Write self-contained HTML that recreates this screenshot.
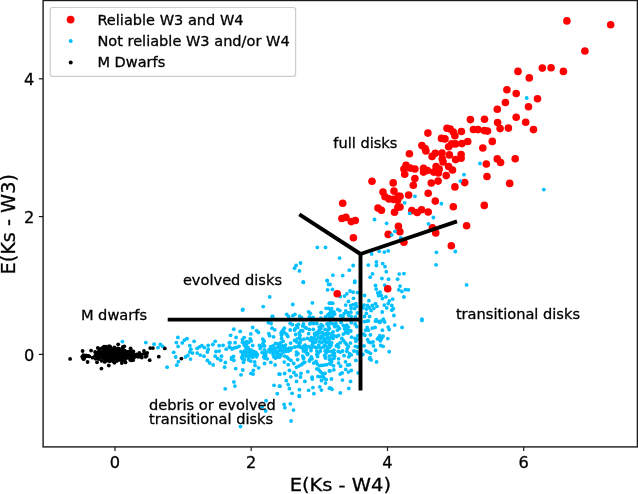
<!DOCTYPE html><html><head><meta charset="utf-8"><title>plot</title><style>html,body{margin:0;padding:0;background:#fff}</style></head><body><svg width="638" height="494" viewBox="0 0 638 494" style="display:block;font-family:'DejaVu Sans','Liberation Sans',sans-serif">
<style>text{stroke:#000;stroke-width:0.3px}</style>
<rect width="638" height="494" fill="#fff"/>
<g fill="#ff0000"><circle cx="566.9" cy="20.9" r="3.8"/><circle cx="610.7" cy="24.8" r="3.8"/><circle cx="584.9" cy="51.0" r="3.8"/><circle cx="518" cy="71.4" r="3.8"/><circle cx="529.3" cy="77.9" r="3.8"/><circle cx="542.3" cy="68.1" r="3.8"/><circle cx="551.1" cy="67.8" r="3.8"/><circle cx="563.4" cy="71.4" r="3.8"/><circle cx="506.9" cy="89.7" r="3.8"/><circle cx="516.2" cy="93.5" r="3.8"/><circle cx="537.5" cy="98.7" r="3.8"/><circle cx="505.4" cy="102.5" r="3.8"/><circle cx="528.5" cy="106.8" r="3.8"/><circle cx="497.3" cy="109.3" r="3.8"/><circle cx="484.5" cy="119.3" r="3.8"/><circle cx="516.2" cy="117.3" r="3.8"/><circle cx="497.6" cy="122.5" r="3.8"/><circle cx="525.7" cy="122.2" r="3.8"/><circle cx="478" cy="129.6" r="3.8"/><circle cx="484.3" cy="130.6" r="3.8"/><circle cx="487.5" cy="131.1" r="3.8"/><circle cx="500.1" cy="128.6" r="3.8"/><circle cx="508.4" cy="128.1" r="3.8"/><circle cx="533.5" cy="129.6" r="3.8"/><circle cx="492.3" cy="141.4" r="3.8"/><circle cx="482.8" cy="148.0" r="3.8"/><circle cx="497.3" cy="158.9" r="3.8"/><circle cx="500.6" cy="162.5" r="3.8"/><circle cx="515.2" cy="158.7" r="3.8"/><circle cx="486.3" cy="164" r="3.8"/><circle cx="487" cy="176.5" r="3.8"/><circle cx="509.7" cy="183.4" r="3.8"/><circle cx="484.3" cy="205.4" r="3.8"/><circle cx="470.4" cy="119.6" r="3.8"/><circle cx="427.9" cy="133.1" r="3.8"/><circle cx="447" cy="128.2" r="3.8"/><circle cx="450.2" cy="129" r="3.8"/><circle cx="453.3" cy="132.1" r="3.8"/><circle cx="454.9" cy="135.7" r="3.8"/><circle cx="461.4" cy="131.5" r="3.8"/><circle cx="473.4" cy="129.5" r="3.8"/><circle cx="441.5" cy="138.4" r="3.8"/><circle cx="445" cy="138.9" r="3.8"/><circle cx="467.7" cy="141.5" r="3.8"/><circle cx="421.9" cy="145.5" r="3.8"/><circle cx="425.1" cy="148.6" r="3.8"/><circle cx="425.9" cy="150.9" r="3.8"/><circle cx="451.7" cy="143.9" r="3.8"/><circle cx="455.6" cy="143.9" r="3.8"/><circle cx="461.9" cy="143.6" r="3.8"/><circle cx="448.6" cy="146.7" r="3.8"/><circle cx="409.4" cy="153.7" r="3.8"/><circle cx="435.3" cy="153.3" r="3.8"/><circle cx="432.1" cy="156.4" r="3.8"/><circle cx="442" cy="153" r="3.8"/><circle cx="449.4" cy="154.9" r="3.8"/><circle cx="461.1" cy="154.5" r="3.8"/><circle cx="455.6" cy="159.6" r="3.8"/><circle cx="461.1" cy="158.3" r="3.8"/><circle cx="442.3" cy="158.8" r="3.8"/><circle cx="443.1" cy="161.9" r="3.8"/><circle cx="406" cy="165.2" r="3.8"/><circle cx="410.2" cy="168.1" r="3.8"/><circle cx="414.9" cy="169" r="3.8"/><circle cx="403.9" cy="169" r="3.8"/><circle cx="404.7" cy="174.3" r="3.8"/><circle cx="423.5" cy="168.2" r="3.8"/><circle cx="427.4" cy="170.5" r="3.8"/><circle cx="423.5" cy="172.1" r="3.8"/><circle cx="436.1" cy="166.6" r="3.8"/><circle cx="439.2" cy="169" r="3.8"/><circle cx="433.7" cy="172.1" r="3.8"/><circle cx="438.4" cy="172.9" r="3.8"/><circle cx="448.6" cy="166.6" r="3.8"/><circle cx="452.5" cy="170" r="3.8"/><circle cx="446.2" cy="175.6" r="3.8"/><circle cx="414.9" cy="178.5" r="3.8"/><circle cx="413.3" cy="185.2" r="3.8"/><circle cx="431.3" cy="183" r="3.8"/><circle cx="438.1" cy="181.1" r="3.8"/><circle cx="464.7" cy="182.6" r="3.8"/><circle cx="454.9" cy="186.9" r="3.8"/><circle cx="408.6" cy="195.1" r="3.8"/><circle cx="400" cy="196.3" r="3.8"/><circle cx="428.2" cy="193.2" r="3.8"/><circle cx="435.3" cy="201.1" r="3.8"/><circle cx="453.3" cy="206.7" r="3.8"/><circle cx="411.8" cy="210.6" r="3.8"/><circle cx="417.2" cy="212.5" r="3.8"/><circle cx="421.6" cy="209.7" r="3.8"/><circle cx="428.2" cy="212" r="3.8"/><circle cx="400" cy="207" r="3.8"/><circle cx="466.6" cy="225.7" r="3.8"/><circle cx="432.4" cy="227.7" r="3.8"/><circle cx="435.7" cy="232.9" r="3.8"/><circle cx="372" cy="181.3" r="3.8"/><circle cx="393.2" cy="182.9" r="3.8"/><circle cx="383" cy="192" r="3.8"/><circle cx="394" cy="191.1" r="3.8"/><circle cx="385" cy="196.7" r="3.8"/><circle cx="389" cy="198.9" r="3.8"/><circle cx="393.7" cy="199.4" r="3.8"/><circle cx="398.4" cy="196.2" r="3.8"/><circle cx="397.6" cy="200.2" r="3.8"/><circle cx="342.7" cy="203.3" r="3.8"/><circle cx="378" cy="208" r="3.8"/><circle cx="381.4" cy="210.3" r="3.8"/><circle cx="397.9" cy="207.2" r="3.8"/><circle cx="394.5" cy="212.2" r="3.8"/><circle cx="341.9" cy="218.5" r="3.8"/><circle cx="345.9" cy="217.4" r="3.8"/><circle cx="351.3" cy="221.6" r="3.8"/><circle cx="355.3" cy="220.5" r="3.8"/><circle cx="398.4" cy="226.4" r="3.8"/><circle cx="353.4" cy="237.7" r="3.8"/><circle cx="399.9" cy="231.8" r="3.8"/><circle cx="388.2" cy="234.4" r="3.8"/><circle cx="403.9" cy="242.3" r="3.8"/><circle cx="451.3" cy="245.7" r="3.8"/></g>
<g fill="#00bfff"><circle cx="526.7" cy="98" r="1.9"/><circle cx="480" cy="163.5" r="1.9"/><circle cx="543.8" cy="189.6" r="1.9"/><circle cx="464" cy="174.7" r="1.9"/><circle cx="460.3" cy="181.1" r="1.9"/><circle cx="414.9" cy="196.3" r="1.9"/><circle cx="404.7" cy="202.8" r="1.9"/><circle cx="441.4" cy="203.7" r="1.9"/><circle cx="409.7" cy="213.4" r="1.9"/><circle cx="433.4" cy="217.5" r="1.9"/><circle cx="428.5" cy="223.8" r="1.9"/><circle cx="400.8" cy="237.9" r="1.9"/><circle cx="374.5" cy="219.5" r="1.9"/><circle cx="386.6" cy="223.3" r="1.9"/><circle cx="394.9" cy="231.3" r="1.9"/><circle cx="391.8" cy="234.9" r="1.9"/><circle cx="401.2" cy="238.5" r="1.9"/><circle cx="325.5" cy="247.4" r="1.9"/><circle cx="339.6" cy="258.1" r="1.9"/><circle cx="371.7" cy="254" r="1.9"/><circle cx="379.2" cy="251.3" r="1.9"/><circle cx="384.3" cy="252.1" r="1.9"/><circle cx="388.2" cy="250.9" r="1.9"/><circle cx="353.2" cy="265.5" r="1.9"/><circle cx="349.3" cy="270.2" r="1.9"/><circle cx="368.3" cy="265.1" r="1.9"/><circle cx="376.4" cy="262" r="1.9"/><circle cx="376.4" cy="265.5" r="1.9"/><circle cx="382.7" cy="263.6" r="1.9"/><circle cx="385" cy="266.6" r="1.9"/><circle cx="386.3" cy="271.7" r="1.9"/><circle cx="372.5" cy="273.8" r="1.9"/><circle cx="370.2" cy="277.2" r="1.9"/><circle cx="332.9" cy="275.2" r="1.9"/><circle cx="342.7" cy="275.6" r="1.9"/><circle cx="327.1" cy="280.3" r="1.9"/><circle cx="354.8" cy="281.1" r="1.9"/><circle cx="381.9" cy="278.5" r="1.9"/><circle cx="388.5" cy="279.2" r="1.9"/><circle cx="399.2" cy="274.1" r="1.9"/><circle cx="403.9" cy="273.6" r="1.9"/><circle cx="397.6" cy="279.2" r="1.9"/><circle cx="145.8" cy="342.6" r="1.9"/><circle cx="154.1" cy="344.2" r="1.9"/><circle cx="160.4" cy="344.5" r="1.9"/><circle cx="158" cy="347.6" r="1.9"/><circle cx="162.7" cy="346.4" r="1.9"/><circle cx="177.9" cy="337.4" r="1.9"/><circle cx="176.4" cy="342.6" r="1.9"/><circle cx="178.1" cy="346.4" r="1.9"/><circle cx="173.7" cy="352.3" r="1.9"/><circle cx="175.7" cy="357" r="1.9"/><circle cx="178.4" cy="361.7" r="1.9"/><circle cx="176.8" cy="365.2" r="1.9"/><circle cx="167.1" cy="367.2" r="1.9"/><circle cx="182.3" cy="342.9" r="1.9"/><circle cx="184.4" cy="340.1" r="1.9"/><circle cx="187" cy="338.7" r="1.9"/><circle cx="194.1" cy="341.3" r="1.9"/><circle cx="189.8" cy="345.7" r="1.9"/><circle cx="190.9" cy="349.2" r="1.9"/><circle cx="189.8" cy="352" r="1.9"/><circle cx="192.5" cy="353.1" r="1.9"/><circle cx="187.8" cy="355.5" r="1.9"/><circle cx="185.5" cy="357" r="1.9"/><circle cx="190.5" cy="359.1" r="1.9"/><circle cx="197.2" cy="348.4" r="1.9"/><circle cx="199.6" cy="346.8" r="1.9"/><circle cx="201.9" cy="345.7" r="1.9"/><circle cx="204.3" cy="347.6" r="1.9"/><circle cx="197.2" cy="353.1" r="1.9"/><circle cx="200.3" cy="355.1" r="1.9"/><circle cx="204" cy="356.2" r="1.9"/><circle cx="208.2" cy="345.3" r="1.9"/><circle cx="208.2" cy="349.2" r="1.9"/><circle cx="207.4" cy="352" r="1.9"/><circle cx="212.9" cy="344.5" r="1.9"/><circle cx="215.2" cy="341.3" r="1.9"/><circle cx="219.2" cy="345.7" r="1.9"/><circle cx="223.1" cy="345.3" r="1.9"/><circle cx="216" cy="351.5" r="1.9"/><circle cx="219.2" cy="351.1" r="1.9"/><circle cx="215.2" cy="356.2" r="1.9"/><circle cx="217.6" cy="358.6" r="1.9"/><circle cx="221.5" cy="356.2" r="1.9"/><circle cx="220.7" cy="360.2" r="1.9"/><circle cx="207.4" cy="360.5" r="1.9"/><circle cx="209.7" cy="363" r="1.9"/><circle cx="213.2" cy="364.9" r="1.9"/><circle cx="225.4" cy="362.5" r="1.9"/><circle cx="224.6" cy="367.2" r="1.9"/><circle cx="226.2" cy="349.2" r="1.9"/><circle cx="229.3" cy="346.8" r="1.9"/><circle cx="229.3" cy="342.9" r="1.9"/><circle cx="122.4" cy="341.6" r="1.9"/><circle cx="317.3" cy="247.4" r="1.9"/><circle cx="300.5" cy="263" r="1.9"/><circle cx="296.1" cy="265.4" r="1.9"/><circle cx="294.6" cy="268.2" r="1.9"/><circle cx="299.4" cy="270.9" r="1.9"/><circle cx="303.2" cy="281.8" r="1.9"/><circle cx="327.2" cy="280.8" r="1.9"/><circle cx="269.7" cy="296.9" r="1.9"/><circle cx="263.2" cy="306.6" r="1.9"/><circle cx="242.9" cy="309.3" r="1.9"/><circle cx="272.3" cy="316.3" r="1.9"/><circle cx="299.4" cy="396.4" r="1.9"/><circle cx="266.1" cy="400.7" r="1.9"/><circle cx="262.1" cy="406.9" r="1.9"/><circle cx="265.7" cy="410.9" r="1.9"/><circle cx="284.1" cy="404.3" r="1.9"/><circle cx="284.9" cy="407.7" r="1.9"/><circle cx="290.3" cy="403.8" r="1.9"/><circle cx="293.5" cy="410.1" r="1.9"/><circle cx="291.1" cy="421" r="1.9"/><circle cx="240.5" cy="426.5" r="1.9"/><circle cx="225.2" cy="388.8" r="1.9"/><circle cx="436.4" cy="252.3" r="1.9"/><circle cx="455.3" cy="251.5" r="1.9"/><circle cx="436.1" cy="264.8" r="1.9"/><circle cx="466.6" cy="284.9" r="1.9"/><circle cx="242.5" cy="310.0" r="1.9"/><circle cx="272.6" cy="316.3" r="1.9"/><circle cx="284.3" cy="362.1" r="1.9"/><circle cx="288.2" cy="364.7" r="1.9"/><circle cx="288.6" cy="358.8" r="1.9"/><circle cx="291.0" cy="360.4" r="1.9"/><circle cx="293.7" cy="363.5" r="1.9"/><circle cx="297.6" cy="359.6" r="1.9"/><circle cx="303.5" cy="358.8" r="1.9"/><circle cx="296.5" cy="367.2" r="1.9"/><circle cx="299.2" cy="365.8" r="1.9"/><circle cx="301.6" cy="364.7" r="1.9"/><circle cx="303.1" cy="363.1" r="1.9"/><circle cx="304.7" cy="362.3" r="1.9"/><circle cx="309.4" cy="361.1" r="1.9"/><circle cx="310.2" cy="359.2" r="1.9"/><circle cx="312.1" cy="358.8" r="1.9"/><circle cx="313.7" cy="363.1" r="1.9"/><circle cx="316.1" cy="361.5" r="1.9"/><circle cx="317.2" cy="363.9" r="1.9"/><circle cx="319.2" cy="365.8" r="1.9"/><circle cx="321.5" cy="365.4" r="1.9"/><circle cx="323.9" cy="365.1" r="1.9"/><circle cx="326.6" cy="364.7" r="1.9"/><circle cx="316.8" cy="368.8" r="1.9"/><circle cx="318.8" cy="369.8" r="1.9"/><circle cx="320.4" cy="371.7" r="1.9"/><circle cx="322.3" cy="373.3" r="1.9"/><circle cx="325.1" cy="373.3" r="1.9"/><circle cx="329.4" cy="370.9" r="1.9"/><circle cx="289.4" cy="370.4" r="1.9"/><circle cx="284.7" cy="373.5" r="1.9"/><circle cx="280.0" cy="374.1" r="1.9"/><circle cx="293.9" cy="372.5" r="1.9"/><circle cx="296.1" cy="375.2" r="1.9"/><circle cx="301.0" cy="373.3" r="1.9"/><circle cx="300.5" cy="377.0" r="1.9"/><circle cx="307.8" cy="371.7" r="1.9"/><circle cx="290.8" cy="376.8" r="1.9"/><circle cx="312.1" cy="377.2" r="1.9"/><circle cx="312.3" cy="379.0" r="1.9"/><circle cx="318.0" cy="376.4" r="1.9"/><circle cx="320.4" cy="376.8" r="1.9"/><circle cx="323.1" cy="376.4" r="1.9"/><circle cx="324.3" cy="378.4" r="1.9"/><circle cx="326.2" cy="379.6" r="1.9"/><circle cx="321.5" cy="380.6" r="1.9"/><circle cx="325.5" cy="383.1" r="1.9"/><circle cx="286.3" cy="380.7" r="1.9"/><circle cx="296.5" cy="381.4" r="1.9"/><circle cx="304.9" cy="381.4" r="1.9"/><circle cx="288.2" cy="384.6" r="1.9"/><circle cx="280.0" cy="386.2" r="1.9"/><circle cx="289.4" cy="388.7" r="1.9"/><circle cx="299.4" cy="389.7" r="1.9"/><circle cx="308.6" cy="390.3" r="1.9"/><circle cx="312.9" cy="387.6" r="1.9"/><circle cx="319.8" cy="386.8" r="1.9"/><circle cx="321.4" cy="390.1" r="1.9"/><circle cx="329.4" cy="388.2" r="1.9"/><circle cx="292.1" cy="393.3" r="1.9"/><circle cx="313.9" cy="393.7" r="1.9"/><circle cx="299.2" cy="395.6" r="1.9"/><circle cx="325.5" cy="358.0" r="1.9"/><circle cx="329.4" cy="359.6" r="1.9"/><circle cx="329.8" cy="363.5" r="1.9"/><circle cx="290.2" cy="323.5" r="1.9"/><circle cx="292.5" cy="324.7" r="1.9"/><circle cx="296.8" cy="325.5" r="1.9"/><circle cx="298.4" cy="324.3" r="1.9"/><circle cx="297.6" cy="327.4" r="1.9"/><circle cx="295.3" cy="328.6" r="1.9"/><circle cx="303.5" cy="323.9" r="1.9"/><circle cx="302.7" cy="325.9" r="1.9"/><circle cx="305.1" cy="327.4" r="1.9"/><circle cx="309.8" cy="323.9" r="1.9"/><circle cx="311.3" cy="323.1" r="1.9"/><circle cx="313.7" cy="323.5" r="1.9"/><circle cx="316.8" cy="323.5" r="1.9"/><circle cx="319.2" cy="327.1" r="1.9"/><circle cx="321.1" cy="324.7" r="1.9"/><circle cx="322.7" cy="325.9" r="1.9"/><circle cx="327.0" cy="323.9" r="1.9"/><circle cx="328.6" cy="326.3" r="1.9"/><circle cx="329.8" cy="323.1" r="1.9"/><circle cx="284.3" cy="328.2" r="1.9"/><circle cx="283.1" cy="330.2" r="1.9"/><circle cx="290.2" cy="330.0" r="1.9"/><circle cx="294.5" cy="330.0" r="1.9"/><circle cx="300.8" cy="330.6" r="1.9"/><circle cx="302.7" cy="331.0" r="1.9"/><circle cx="306.3" cy="328.2" r="1.9"/><circle cx="309.4" cy="329.4" r="1.9"/><circle cx="313.3" cy="329.4" r="1.9"/><circle cx="319.2" cy="330.2" r="1.9"/><circle cx="320.8" cy="328.6" r="1.9"/><circle cx="325.1" cy="329.4" r="1.9"/><circle cx="327.8" cy="330.2" r="1.9"/><circle cx="329.4" cy="328.6" r="1.9"/><circle cx="281.6" cy="331.8" r="1.9"/><circle cx="281.2" cy="333.3" r="1.9"/><circle cx="284.7" cy="332.9" r="1.9"/><circle cx="286.7" cy="334.5" r="1.9"/><circle cx="295.7" cy="334.5" r="1.9"/><circle cx="299.2" cy="332.9" r="1.9"/><circle cx="300.0" cy="335.3" r="1.9"/><circle cx="308.6" cy="333.7" r="1.9"/><circle cx="314.5" cy="333.7" r="1.9"/><circle cx="316.8" cy="332.5" r="1.9"/><circle cx="319.2" cy="332.9" r="1.9"/><circle cx="322.3" cy="332.5" r="1.9"/><circle cx="323.9" cy="334.5" r="1.9"/><circle cx="326.2" cy="333.3" r="1.9"/><circle cx="328.6" cy="333.7" r="1.9"/><circle cx="281.6" cy="335.3" r="1.9"/><circle cx="287.8" cy="336.5" r="1.9"/><circle cx="314.9" cy="335.7" r="1.9"/><circle cx="317.6" cy="335.3" r="1.9"/><circle cx="281.6" cy="338.4" r="1.9"/><circle cx="283.1" cy="341.2" r="1.9"/><circle cx="294.5" cy="340.4" r="1.9"/><circle cx="297.2" cy="338.8" r="1.9"/><circle cx="299.6" cy="337.6" r="1.9"/><circle cx="300.8" cy="340.0" r="1.9"/><circle cx="303.9" cy="339.2" r="1.9"/><circle cx="307.4" cy="338.4" r="1.9"/><circle cx="311.3" cy="337.6" r="1.9"/><circle cx="310.2" cy="340.0" r="1.9"/><circle cx="313.7" cy="338.4" r="1.9"/><circle cx="316.1" cy="339.6" r="1.9"/><circle cx="318.4" cy="337.6" r="1.9"/><circle cx="320.8" cy="338.8" r="1.9"/><circle cx="323.5" cy="338.0" r="1.9"/><circle cx="325.8" cy="339.6" r="1.9"/><circle cx="327.8" cy="337.2" r="1.9"/><circle cx="329.4" cy="339.2" r="1.9"/><circle cx="321.5" cy="336.1" r="1.9"/><circle cx="327.0" cy="335.7" r="1.9"/><circle cx="280.8" cy="342.7" r="1.9"/><circle cx="290.6" cy="343.1" r="1.9"/><circle cx="296.8" cy="341.9" r="1.9"/><circle cx="300.0" cy="342.7" r="1.9"/><circle cx="299.2" cy="343.9" r="1.9"/><circle cx="312.5" cy="341.6" r="1.9"/><circle cx="312.9" cy="343.5" r="1.9"/><circle cx="315.3" cy="342.3" r="1.9"/><circle cx="319.2" cy="341.6" r="1.9"/><circle cx="321.5" cy="342.7" r="1.9"/><circle cx="323.9" cy="341.2" r="1.9"/><circle cx="326.2" cy="342.7" r="1.9"/><circle cx="328.6" cy="341.9" r="1.9"/><circle cx="329.8" cy="344.3" r="1.9"/><circle cx="285.5" cy="345.1" r="1.9"/><circle cx="282.4" cy="345.9" r="1.9"/><circle cx="305.1" cy="345.1" r="1.9"/><circle cx="303.5" cy="346.3" r="1.9"/><circle cx="312.1" cy="345.1" r="1.9"/><circle cx="318.8" cy="345.1" r="1.9"/><circle cx="324.7" cy="345.1" r="1.9"/><circle cx="280.8" cy="347.4" r="1.9"/><circle cx="284.3" cy="347.4" r="1.9"/><circle cx="286.7" cy="349.0" r="1.9"/><circle cx="289.4" cy="348.2" r="1.9"/><circle cx="291.8" cy="347.8" r="1.9"/><circle cx="294.9" cy="347.0" r="1.9"/><circle cx="297.6" cy="346.6" r="1.9"/><circle cx="300.4" cy="347.0" r="1.9"/><circle cx="302.7" cy="348.2" r="1.9"/><circle cx="305.9" cy="347.4" r="1.9"/><circle cx="306.3" cy="349.4" r="1.9"/><circle cx="308.6" cy="346.6" r="1.9"/><circle cx="311.0" cy="348.2" r="1.9"/><circle cx="313.3" cy="346.6" r="1.9"/><circle cx="315.7" cy="347.4" r="1.9"/><circle cx="318.4" cy="347.0" r="1.9"/><circle cx="320.8" cy="347.8" r="1.9"/><circle cx="323.5" cy="347.0" r="1.9"/><circle cx="327.0" cy="346.6" r="1.9"/><circle cx="329.4" cy="347.4" r="1.9"/><circle cx="283.9" cy="350.2" r="1.9"/><circle cx="281.2" cy="350.2" r="1.9"/><circle cx="327.0" cy="349.4" r="1.9"/><circle cx="283.5" cy="352.1" r="1.9"/><circle cx="286.3" cy="351.3" r="1.9"/><circle cx="288.6" cy="351.0" r="1.9"/><circle cx="296.5" cy="352.1" r="1.9"/><circle cx="298.0" cy="353.7" r="1.9"/><circle cx="303.5" cy="351.0" r="1.9"/><circle cx="305.9" cy="352.1" r="1.9"/><circle cx="307.8" cy="353.7" r="1.9"/><circle cx="311.0" cy="350.6" r="1.9"/><circle cx="316.8" cy="351.0" r="1.9"/><circle cx="318.4" cy="352.9" r="1.9"/><circle cx="320.4" cy="351.0" r="1.9"/><circle cx="325.1" cy="351.0" r="1.9"/><circle cx="326.2" cy="352.9" r="1.9"/><circle cx="328.6" cy="351.3" r="1.9"/><circle cx="281.2" cy="354.1" r="1.9"/><circle cx="290.2" cy="350.2" r="1.9"/><circle cx="280.8" cy="355.7" r="1.9"/><circle cx="284.7" cy="356.1" r="1.9"/><circle cx="287.1" cy="357.2" r="1.9"/><circle cx="296.5" cy="354.9" r="1.9"/><circle cx="302.7" cy="356.1" r="1.9"/><circle cx="303.5" cy="357.6" r="1.9"/><circle cx="311.3" cy="356.8" r="1.9"/><circle cx="316.8" cy="354.5" r="1.9"/><circle cx="317.6" cy="356.4" r="1.9"/><circle cx="324.7" cy="355.3" r="1.9"/><circle cx="325.5" cy="357.2" r="1.9"/><circle cx="329.4" cy="356.1" r="1.9"/><circle cx="307.4" cy="354.5" r="1.9"/><circle cx="268.4" cy="322.7" r="1.9"/><circle cx="271.1" cy="323.5" r="1.9"/><circle cx="252.7" cy="327.4" r="1.9"/><circle cx="256.6" cy="330.6" r="1.9"/><circle cx="258.4" cy="332.4" r="1.9"/><circle cx="272.1" cy="328.2" r="1.9"/><circle cx="274.7" cy="329.8" r="1.9"/><circle cx="233.8" cy="329.2" r="1.9"/><circle cx="240.2" cy="331.4" r="1.9"/><circle cx="250.8" cy="333.9" r="1.9"/><circle cx="268.8" cy="333.7" r="1.9"/><circle cx="269.6" cy="335.7" r="1.9"/><circle cx="273.5" cy="336.8" r="1.9"/><circle cx="230.6" cy="335.3" r="1.9"/><circle cx="236.1" cy="337.4" r="1.9"/><circle cx="244.1" cy="337.6" r="1.9"/><circle cx="242.5" cy="339.6" r="1.9"/><circle cx="250.2" cy="338.8" r="1.9"/><circle cx="251.2" cy="340.8" r="1.9"/><circle cx="262.8" cy="339.2" r="1.9"/><circle cx="264.1" cy="341.2" r="1.9"/><circle cx="242.5" cy="342.3" r="1.9"/><circle cx="244.9" cy="342.7" r="1.9"/><circle cx="246.8" cy="341.6" r="1.9"/><circle cx="248.8" cy="342.3" r="1.9"/><circle cx="235.1" cy="342.7" r="1.9"/><circle cx="252.7" cy="345.5" r="1.9"/><circle cx="230.0" cy="342.7" r="1.9"/><circle cx="259.4" cy="345.5" r="1.9"/><circle cx="261.3" cy="346.6" r="1.9"/><circle cx="264.5" cy="345.9" r="1.9"/><circle cx="262.9" cy="343.5" r="1.9"/><circle cx="275.5" cy="343.5" r="1.9"/><circle cx="277.8" cy="343.9" r="1.9"/><circle cx="279.4" cy="345.1" r="1.9"/><circle cx="273.1" cy="345.9" r="1.9"/><circle cx="270.8" cy="346.6" r="1.9"/><circle cx="269.2" cy="349.4" r="1.9"/><circle cx="271.9" cy="349.4" r="1.9"/><circle cx="274.7" cy="348.2" r="1.9"/><circle cx="277.8" cy="347.4" r="1.9"/><circle cx="279.8" cy="347.8" r="1.9"/><circle cx="239.0" cy="346.3" r="1.9"/><circle cx="236.7" cy="347.4" r="1.9"/><circle cx="234.3" cy="347.8" r="1.9"/><circle cx="232.0" cy="349.0" r="1.9"/><circle cx="230.0" cy="347.4" r="1.9"/><circle cx="244.1" cy="345.1" r="1.9"/><circle cx="246.5" cy="344.7" r="1.9"/><circle cx="245.7" cy="347.0" r="1.9"/><circle cx="248.0" cy="347.4" r="1.9"/><circle cx="249.2" cy="349.4" r="1.9"/><circle cx="251.2" cy="350.2" r="1.9"/><circle cx="246.8" cy="350.2" r="1.9"/><circle cx="244.5" cy="351.0" r="1.9"/><circle cx="241.0" cy="351.7" r="1.9"/><circle cx="242.9" cy="352.9" r="1.9"/><circle cx="245.3" cy="353.3" r="1.9"/><circle cx="248.0" cy="352.1" r="1.9"/><circle cx="250.4" cy="352.9" r="1.9"/><circle cx="253.5" cy="351.3" r="1.9"/><circle cx="255.9" cy="352.5" r="1.9"/><circle cx="257.4" cy="354.5" r="1.9"/><circle cx="255.1" cy="354.9" r="1.9"/><circle cx="252.7" cy="354.5" r="1.9"/><circle cx="250.4" cy="355.7" r="1.9"/><circle cx="248.0" cy="355.7" r="1.9"/><circle cx="245.7" cy="356.1" r="1.9"/><circle cx="242.5" cy="355.7" r="1.9"/><circle cx="241.8" cy="357.6" r="1.9"/><circle cx="248.8" cy="357.6" r="1.9"/><circle cx="252.7" cy="357.2" r="1.9"/><circle cx="256.6" cy="356.8" r="1.9"/><circle cx="260.2" cy="348.6" r="1.9"/><circle cx="264.5" cy="349.8" r="1.9"/><circle cx="262.1" cy="352.5" r="1.9"/><circle cx="264.5" cy="353.7" r="1.9"/><circle cx="266.4" cy="352.1" r="1.9"/><circle cx="265.7" cy="355.7" r="1.9"/><circle cx="263.7" cy="356.8" r="1.9"/><circle cx="273.1" cy="352.1" r="1.9"/><circle cx="275.5" cy="351.0" r="1.9"/><circle cx="277.8" cy="351.3" r="1.9"/><circle cx="279.8" cy="350.6" r="1.9"/><circle cx="273.1" cy="354.5" r="1.9"/><circle cx="276.2" cy="353.7" r="1.9"/><circle cx="278.6" cy="354.5" r="1.9"/><circle cx="273.9" cy="356.8" r="1.9"/><circle cx="277.0" cy="356.8" r="1.9"/><circle cx="279.4" cy="357.2" r="1.9"/><circle cx="233.5" cy="356.4" r="1.9"/><circle cx="231.6" cy="357.6" r="1.9"/><circle cx="270.0" cy="352.1" r="1.9"/><circle cx="333.1" cy="323.9" r="1.9"/><circle cx="335.9" cy="323.5" r="1.9"/><circle cx="334.7" cy="326.7" r="1.9"/><circle cx="337.8" cy="326.3" r="1.9"/><circle cx="339.4" cy="328.6" r="1.9"/><circle cx="337.4" cy="330.2" r="1.9"/><circle cx="333.1" cy="331.8" r="1.9"/><circle cx="331.6" cy="333.7" r="1.9"/><circle cx="333.9" cy="335.7" r="1.9"/><circle cx="336.7" cy="336.5" r="1.9"/><circle cx="338.6" cy="335.3" r="1.9"/><circle cx="331.2" cy="336.8" r="1.9"/><circle cx="333.1" cy="338.4" r="1.9"/><circle cx="343.3" cy="325.5" r="1.9"/><circle cx="345.3" cy="326.7" r="1.9"/><circle cx="346.8" cy="325.1" r="1.9"/><circle cx="348.4" cy="327.1" r="1.9"/><circle cx="344.5" cy="329.0" r="1.9"/><circle cx="346.8" cy="329.8" r="1.9"/><circle cx="349.2" cy="330.6" r="1.9"/><circle cx="350.8" cy="331.0" r="1.9"/><circle cx="345.7" cy="332.5" r="1.9"/><circle cx="343.3" cy="334.1" r="1.9"/><circle cx="348.0" cy="333.3" r="1.9"/><circle cx="355.1" cy="323.9" r="1.9"/><circle cx="356.6" cy="326.7" r="1.9"/><circle cx="351.6" cy="337.2" r="1.9"/><circle cx="341.8" cy="338.4" r="1.9"/><circle cx="343.3" cy="340.4" r="1.9"/><circle cx="344.9" cy="342.3" r="1.9"/><circle cx="346.5" cy="344.3" r="1.9"/><circle cx="340.2" cy="342.7" r="1.9"/><circle cx="337.8" cy="344.3" r="1.9"/><circle cx="336.3" cy="345.9" r="1.9"/><circle cx="338.6" cy="347.0" r="1.9"/><circle cx="331.6" cy="342.7" r="1.9"/><circle cx="331.2" cy="345.1" r="1.9"/><circle cx="330.0" cy="346.6" r="1.9"/><circle cx="350.4" cy="343.1" r="1.9"/><circle cx="355.1" cy="338.4" r="1.9"/><circle cx="357.0" cy="339.2" r="1.9"/><circle cx="355.9" cy="341.2" r="1.9"/><circle cx="357.8" cy="335.7" r="1.9"/><circle cx="355.5" cy="346.3" r="1.9"/><circle cx="348.4" cy="346.6" r="1.9"/><circle cx="347.2" cy="348.6" r="1.9"/><circle cx="346.8" cy="351.3" r="1.9"/><circle cx="342.5" cy="351.0" r="1.9"/><circle cx="340.2" cy="352.1" r="1.9"/><circle cx="338.2" cy="351.3" r="1.9"/><circle cx="333.9" cy="350.2" r="1.9"/><circle cx="331.6" cy="351.3" r="1.9"/><circle cx="334.3" cy="353.3" r="1.9"/><circle cx="332.4" cy="354.9" r="1.9"/><circle cx="334.7" cy="356.1" r="1.9"/><circle cx="344.1" cy="355.7" r="1.9"/><circle cx="349.6" cy="353.7" r="1.9"/><circle cx="351.2" cy="354.9" r="1.9"/><circle cx="348.8" cy="356.8" r="1.9"/><circle cx="353.9" cy="351.0" r="1.9"/><circle cx="356.6" cy="351.3" r="1.9"/><circle cx="357.8" cy="353.7" r="1.9"/><circle cx="357.8" cy="347.0" r="1.9"/><circle cx="341.0" cy="322.4" r="1.9"/><circle cx="351.2" cy="322.7" r="1.9"/><circle cx="330.8" cy="323.1" r="1.9"/><circle cx="364.5" cy="321.6" r="1.9"/><circle cx="366.8" cy="321.2" r="1.9"/><circle cx="368.4" cy="320.8" r="1.9"/><circle cx="375.5" cy="321.2" r="1.9"/><circle cx="378.6" cy="321.6" r="1.9"/><circle cx="379.8" cy="322.4" r="1.9"/><circle cx="367.2" cy="327.4" r="1.9"/><circle cx="365.7" cy="330.2" r="1.9"/><circle cx="368.4" cy="330.2" r="1.9"/><circle cx="372.3" cy="328.2" r="1.9"/><circle cx="375.1" cy="327.4" r="1.9"/><circle cx="363.7" cy="334.1" r="1.9"/><circle cx="364.9" cy="335.3" r="1.9"/><circle cx="370.4" cy="334.9" r="1.9"/><circle cx="367.6" cy="339.6" r="1.9"/><circle cx="368.8" cy="341.9" r="1.9"/><circle cx="370.8" cy="342.7" r="1.9"/><circle cx="373.1" cy="341.9" r="1.9"/><circle cx="373.5" cy="345.9" r="1.9"/><circle cx="364.1" cy="345.9" r="1.9"/><circle cx="378.6" cy="337.6" r="1.9"/><circle cx="379.8" cy="339.6" r="1.9"/><circle cx="377.4" cy="338.8" r="1.9"/><circle cx="375.5" cy="350.2" r="1.9"/><circle cx="366.1" cy="351.0" r="1.9"/><circle cx="368.4" cy="352.1" r="1.9"/><circle cx="370.4" cy="353.3" r="1.9"/><circle cx="362.9" cy="354.5" r="1.9"/><circle cx="370.0" cy="357.6" r="1.9"/><circle cx="379.8" cy="335.7" r="1.9"/><circle cx="231.6" cy="359.2" r="1.9"/><circle cx="233.9" cy="360.4" r="1.9"/><circle cx="242.5" cy="358.8" r="1.9"/><circle cx="244.5" cy="359.6" r="1.9"/><circle cx="243.5" cy="362.3" r="1.9"/><circle cx="248.8" cy="360.0" r="1.9"/><circle cx="250.8" cy="361.1" r="1.9"/><circle cx="254.7" cy="361.9" r="1.9"/><circle cx="255.1" cy="365.4" r="1.9"/><circle cx="258.6" cy="367.8" r="1.9"/><circle cx="264.5" cy="363.5" r="1.9"/><circle cx="267.2" cy="358.8" r="1.9"/><circle cx="264.5" cy="358.0" r="1.9"/><circle cx="270.8" cy="362.3" r="1.9"/><circle cx="275.1" cy="364.9" r="1.9"/><circle cx="275.5" cy="358.0" r="1.9"/><circle cx="235.7" cy="368.6" r="1.9"/><circle cx="242.8" cy="370.0" r="1.9"/><circle cx="241.0" cy="374.8" r="1.9"/><circle cx="253.4" cy="370.5" r="1.9"/><circle cx="251.0" cy="373.4" r="1.9"/><circle cx="253.1" cy="374.1" r="1.9"/><circle cx="279.0" cy="374.1" r="1.9"/><circle cx="233.9" cy="381.9" r="1.9"/><circle cx="234.9" cy="386.1" r="1.9"/><circle cx="274.0" cy="385.3" r="1.9"/><circle cx="279.4" cy="386.1" r="1.9"/><circle cx="277.3" cy="393.7" r="1.9"/><circle cx="331.2" cy="359.2" r="1.9"/><circle cx="333.9" cy="358.4" r="1.9"/><circle cx="338.6" cy="358.8" r="1.9"/><circle cx="331.6" cy="361.5" r="1.9"/><circle cx="330.8" cy="363.9" r="1.9"/><circle cx="333.5" cy="365.8" r="1.9"/><circle cx="338.6" cy="363.1" r="1.9"/><circle cx="340.6" cy="366.2" r="1.9"/><circle cx="345.5" cy="361.8" r="1.9"/><circle cx="347.6" cy="365.1" r="1.9"/><circle cx="349.6" cy="364.7" r="1.9"/><circle cx="355.9" cy="360.4" r="1.9"/><circle cx="333.8" cy="369.8" r="1.9"/><circle cx="330.0" cy="370.9" r="1.9"/><circle cx="345.7" cy="369.4" r="1.9"/><circle cx="348.4" cy="372.1" r="1.9"/><circle cx="351.2" cy="370.5" r="1.9"/><circle cx="340.2" cy="374.1" r="1.9"/><circle cx="342.1" cy="372.9" r="1.9"/><circle cx="358.2" cy="372.9" r="1.9"/><circle cx="331.4" cy="379.0" r="1.9"/><circle cx="342.4" cy="380.1" r="1.9"/><circle cx="350.5" cy="381.4" r="1.9"/><circle cx="330.8" cy="388.2" r="1.9"/><circle cx="332.0" cy="389.3" r="1.9"/><circle cx="348.8" cy="388.4" r="1.9"/><circle cx="340.3" cy="392.9" r="1.9"/><circle cx="369.6" cy="358.8" r="1.9"/><circle cx="371.1" cy="360.0" r="1.9"/><circle cx="376.6" cy="361.9" r="1.9"/><circle cx="303.4" cy="282.4" r="1.9"/><circle cx="328.6" cy="284.4" r="1.9"/><circle cx="327.6" cy="289.8" r="1.9"/><circle cx="292.8" cy="304.5" r="1.9"/><circle cx="312.4" cy="302.9" r="1.9"/><circle cx="329.4" cy="303.2" r="1.9"/><circle cx="326.2" cy="308.3" r="1.9"/><circle cx="328.6" cy="308.3" r="1.9"/><circle cx="308.6" cy="311.8" r="1.9"/><circle cx="310.2" cy="313.3" r="1.9"/><circle cx="321.1" cy="312.6" r="1.9"/><circle cx="286.7" cy="314.3" r="1.9"/><circle cx="288.6" cy="316.5" r="1.9"/><circle cx="292.9" cy="315.7" r="1.9"/><circle cx="294.9" cy="314.3" r="1.9"/><circle cx="299.6" cy="316.1" r="1.9"/><circle cx="301.6" cy="317.7" r="1.9"/><circle cx="309.4" cy="316.9" r="1.9"/><circle cx="312.9" cy="317.3" r="1.9"/><circle cx="320.8" cy="318.1" r="1.9"/><circle cx="325.5" cy="316.9" r="1.9"/><circle cx="327.8" cy="314.9" r="1.9"/><circle cx="329.4" cy="313.3" r="1.9"/><circle cx="329.4" cy="316.5" r="1.9"/><circle cx="354.7" cy="282.4" r="1.9"/><circle cx="330.0" cy="284.4" r="1.9"/><circle cx="332.4" cy="289.4" r="1.9"/><circle cx="350.0" cy="291.0" r="1.9"/><circle cx="353.1" cy="292.2" r="1.9"/><circle cx="357.4" cy="292.6" r="1.9"/><circle cx="346.8" cy="293.8" r="1.9"/><circle cx="344.5" cy="296.1" r="1.9"/><circle cx="340.2" cy="296.5" r="1.9"/><circle cx="353.5" cy="298.3" r="1.9"/><circle cx="348.4" cy="301.4" r="1.9"/><circle cx="330.8" cy="303.2" r="1.9"/><circle cx="332.7" cy="303.2" r="1.9"/><circle cx="345.7" cy="305.1" r="1.9"/><circle cx="350.8" cy="305.5" r="1.9"/><circle cx="353.5" cy="304.7" r="1.9"/><circle cx="355.9" cy="303.6" r="1.9"/><circle cx="356.6" cy="306.3" r="1.9"/><circle cx="354.7" cy="308.6" r="1.9"/><circle cx="351.2" cy="308.3" r="1.9"/><circle cx="331.6" cy="308.6" r="1.9"/><circle cx="337.8" cy="309.4" r="1.9"/><circle cx="339.8" cy="310.6" r="1.9"/><circle cx="345.7" cy="311.0" r="1.9"/><circle cx="347.6" cy="312.6" r="1.9"/><circle cx="350.8" cy="312.2" r="1.9"/><circle cx="344.1" cy="313.7" r="1.9"/><circle cx="340.6" cy="315.7" r="1.9"/><circle cx="342.9" cy="316.5" r="1.9"/><circle cx="348.8" cy="315.3" r="1.9"/><circle cx="351.2" cy="316.5" r="1.9"/><circle cx="333.9" cy="311.8" r="1.9"/><circle cx="331.6" cy="313.0" r="1.9"/><circle cx="334.7" cy="314.1" r="1.9"/><circle cx="332.4" cy="316.5" r="1.9"/><circle cx="355.5" cy="316.9" r="1.9"/><circle cx="357.4" cy="313.0" r="1.9"/><circle cx="330.8" cy="310.6" r="1.9"/><circle cx="375.5" cy="285.5" r="1.9"/><circle cx="376.2" cy="289.1" r="1.9"/><circle cx="377.8" cy="293.0" r="1.9"/><circle cx="378.6" cy="295.7" r="1.9"/><circle cx="364.5" cy="295.5" r="1.9"/><circle cx="368.9" cy="300.7" r="1.9"/><circle cx="364.1" cy="305.1" r="1.9"/><circle cx="367.6" cy="305.5" r="1.9"/><circle cx="369.6" cy="307.9" r="1.9"/><circle cx="366.4" cy="309.0" r="1.9"/><circle cx="372.3" cy="305.5" r="1.9"/><circle cx="373.9" cy="308.3" r="1.9"/><circle cx="375.5" cy="303.6" r="1.9"/><circle cx="377.0" cy="306.3" r="1.9"/><circle cx="371.1" cy="310.6" r="1.9"/><circle cx="366.4" cy="313.3" r="1.9"/><circle cx="364.5" cy="316.5" r="1.9"/><circle cx="369.6" cy="316.5" r="1.9"/><circle cx="376.2" cy="319.6" r="1.9"/><circle cx="362.9" cy="307.9" r="1.9"/><circle cx="384.7" cy="285.1" r="1.9"/><circle cx="400.0" cy="286.1" r="1.9"/><circle cx="398.8" cy="289.8" r="1.9"/><circle cx="401.9" cy="291.4" r="1.9"/><circle cx="405.5" cy="289.7" r="1.9"/><circle cx="408.4" cy="289.8" r="1.9"/><circle cx="380.0" cy="292.2" r="1.9"/><circle cx="381.2" cy="295.3" r="1.9"/><circle cx="382.4" cy="298.5" r="1.9"/><circle cx="385.9" cy="296.9" r="1.9"/><circle cx="403.9" cy="297.0" r="1.9"/><circle cx="392.7" cy="299.1" r="1.9"/><circle cx="389.4" cy="300.8" r="1.9"/><circle cx="388.2" cy="303.6" r="1.9"/><circle cx="384.3" cy="305.1" r="1.9"/><circle cx="386.7" cy="307.9" r="1.9"/><circle cx="391.8" cy="305.5" r="1.9"/><circle cx="393.3" cy="308.6" r="1.9"/><circle cx="391.8" cy="310.2" r="1.9"/><circle cx="382.2" cy="312.0" r="1.9"/><circle cx="393.9" cy="315.5" r="1.9"/><circle cx="383.3" cy="319.2" r="1.9"/><circle cx="421.9" cy="319.2" r="1.9"/><circle cx="380.8" cy="321.2" r="1.9"/><circle cx="384.7" cy="322.0" r="1.9"/><circle cx="394.7" cy="325.1" r="1.9"/><circle cx="402.1" cy="327.4" r="1.9"/><circle cx="388.2" cy="327.1" r="1.9"/><circle cx="389.2" cy="329.6" r="1.9"/><circle cx="382.4" cy="330.2" r="1.9"/><circle cx="383.1" cy="336.1" r="1.9"/><circle cx="381.6" cy="338.4" r="1.9"/><circle cx="380.4" cy="340.8" r="1.9"/><circle cx="387.8" cy="338.6" r="1.9"/><circle cx="380.8" cy="345.5" r="1.9"/><circle cx="383.1" cy="346.3" r="1.9"/><circle cx="389.2" cy="351.7" r="1.9"/><circle cx="421.9" cy="320.4" r="1.9"/></g>
<g fill="#ff0000"><circle cx="387.7" cy="288.7" r="3.8"/><circle cx="337.2" cy="293.8" r="3.8"/></g>
<g fill="#000"><circle cx="150.2" cy="348.1" r="1.9"/><circle cx="152.9" cy="348.1" r="1.9"/><circle cx="164.8" cy="348.4" r="1.9"/><circle cx="158.8" cy="356.7" r="1.9"/><circle cx="149.7" cy="360.2" r="1.9"/><circle cx="181.4" cy="358.6" r="1.9"/><circle cx="141.6" cy="354.7" r="1.9"/><circle cx="145.5" cy="353.6" r="1.9"/><circle cx="70.1" cy="358.9" r="1.9"/><circle cx="101.4" cy="368.6" r="1.9"/><circle cx="82.6" cy="351" r="1.9"/><circle cx="83.7" cy="359.2" r="1.9"/><circle cx="87.6" cy="362" r="1.9"/><circle cx="91.1" cy="350.6" r="1.9"/><circle cx="97.8" cy="347.9" r="1.9"/><circle cx="106.1" cy="346.6" r="1.9"/><circle cx="118.2" cy="344.3" r="1.9"/><circle cx="86.1" cy="355.3" r="1.9"/><circle cx="97" cy="362.3" r="1.9"/><circle cx="108.8" cy="365.5" r="1.9"/><circle cx="121.8" cy="363.1" r="1.9"/><circle cx="131.5" cy="360.4" r="1.9"/><circle cx="136.2" cy="355.3" r="1.9"/><circle cx="139.3" cy="352.9" r="1.9"/><circle cx="140.1" cy="356.8" r="1.9"/><circle cx="144" cy="353.7" r="1.9"/><circle cx="145.6" cy="356.8" r="1.9"/><circle cx="147.2" cy="352.9" r="1.9"/><circle cx="116.1" cy="359.7" r="1.9"/><circle cx="104.3" cy="358.7" r="1.9"/><circle cx="112.0" cy="353.8" r="1.9"/><circle cx="114.5" cy="357.6" r="1.9"/><circle cx="128.0" cy="354.7" r="1.9"/><circle cx="121.8" cy="351.0" r="1.9"/><circle cx="110.8" cy="353.1" r="1.9"/><circle cx="99.7" cy="348.9" r="1.9"/><circle cx="96.3" cy="353.9" r="1.9"/><circle cx="113.0" cy="353.6" r="1.9"/><circle cx="115.8" cy="349.6" r="1.9"/><circle cx="114.1" cy="355.7" r="1.9"/><circle cx="123.6" cy="351.5" r="1.9"/><circle cx="110.4" cy="346.9" r="1.9"/><circle cx="109.2" cy="346.2" r="1.9"/><circle cx="98.7" cy="359.1" r="1.9"/><circle cx="118.8" cy="353.6" r="1.9"/><circle cx="120.3" cy="356.9" r="1.9"/><circle cx="127.0" cy="353.9" r="1.9"/><circle cx="108.2" cy="352.4" r="1.9"/><circle cx="103.7" cy="354.6" r="1.9"/><circle cx="106.0" cy="359.0" r="1.9"/><circle cx="104.0" cy="346.6" r="1.9"/><circle cx="111.7" cy="352.8" r="1.9"/><circle cx="127.3" cy="351.9" r="1.9"/><circle cx="113.2" cy="352.2" r="1.9"/><circle cx="122.4" cy="350.4" r="1.9"/><circle cx="114.1" cy="356.2" r="1.9"/><circle cx="132.5" cy="358.5" r="1.9"/><circle cx="109.4" cy="356.0" r="1.9"/><circle cx="109.6" cy="361.2" r="1.9"/><circle cx="117.4" cy="354.0" r="1.9"/><circle cx="112.4" cy="354.0" r="1.9"/><circle cx="113.0" cy="351.4" r="1.9"/><circle cx="113.3" cy="356.3" r="1.9"/><circle cx="112.6" cy="354.2" r="1.9"/><circle cx="118.8" cy="358.6" r="1.9"/><circle cx="109.8" cy="353.3" r="1.9"/><circle cx="123.9" cy="352.5" r="1.9"/><circle cx="101.5" cy="356.0" r="1.9"/><circle cx="105.4" cy="350.7" r="1.9"/><circle cx="100.1" cy="352.8" r="1.9"/><circle cx="127.7" cy="353.1" r="1.9"/><circle cx="98.3" cy="357.4" r="1.9"/><circle cx="115.8" cy="358.1" r="1.9"/><circle cx="128.8" cy="354.1" r="1.9"/><circle cx="113.3" cy="354.6" r="1.9"/><circle cx="102.0" cy="357.4" r="1.9"/><circle cx="130.8" cy="355.5" r="1.9"/><circle cx="112.3" cy="353.8" r="1.9"/><circle cx="106.0" cy="351.7" r="1.9"/><circle cx="110.4" cy="351.5" r="1.9"/><circle cx="110.0" cy="348.6" r="1.9"/><circle cx="119.0" cy="355.0" r="1.9"/><circle cx="114.9" cy="359.1" r="1.9"/><circle cx="106.6" cy="352.9" r="1.9"/><circle cx="108.5" cy="357.3" r="1.9"/><circle cx="104.5" cy="358.6" r="1.9"/><circle cx="111.5" cy="358.4" r="1.9"/><circle cx="115.4" cy="353.9" r="1.9"/><circle cx="98.0" cy="352.1" r="1.9"/><circle cx="112.0" cy="357.4" r="1.9"/><circle cx="117.8" cy="352.1" r="1.9"/><circle cx="119.7" cy="358.7" r="1.9"/><circle cx="113.3" cy="353.1" r="1.9"/><circle cx="110.5" cy="358.0" r="1.9"/><circle cx="121.2" cy="351.2" r="1.9"/><circle cx="119.3" cy="352.9" r="1.9"/><circle cx="106.4" cy="359.6" r="1.9"/><circle cx="124.4" cy="352.0" r="1.9"/><circle cx="115.9" cy="356.8" r="1.9"/><circle cx="107.6" cy="354.3" r="1.9"/><circle cx="122.7" cy="347.8" r="1.9"/><circle cx="118.8" cy="357.7" r="1.9"/><circle cx="120.8" cy="349.6" r="1.9"/><circle cx="118.7" cy="351.4" r="1.9"/><circle cx="121.6" cy="357.2" r="1.9"/><circle cx="117.5" cy="351.8" r="1.9"/><circle cx="108.2" cy="358.1" r="1.9"/><circle cx="104.7" cy="356.7" r="1.9"/><circle cx="120.9" cy="353.7" r="1.9"/><circle cx="122.3" cy="353.6" r="1.9"/><circle cx="114.4" cy="347.4" r="1.9"/><circle cx="107.8" cy="350.8" r="1.9"/><circle cx="112.4" cy="358.3" r="1.9"/><circle cx="115.6" cy="356.2" r="1.9"/><circle cx="107.0" cy="353.1" r="1.9"/><circle cx="116.3" cy="353.7" r="1.9"/><circle cx="129.5" cy="351.4" r="1.9"/><circle cx="127.2" cy="351.8" r="1.9"/><circle cx="134.0" cy="355.3" r="1.9"/><circle cx="119.6" cy="357.7" r="1.9"/><circle cx="107.7" cy="350.7" r="1.9"/><circle cx="107.0" cy="352.5" r="1.9"/><circle cx="114.6" cy="362.6" r="1.9"/><circle cx="95.1" cy="355.8" r="1.9"/><circle cx="110.4" cy="356.9" r="1.9"/><circle cx="124.7" cy="360.9" r="1.9"/><circle cx="133.4" cy="351.5" r="1.9"/><circle cx="115.6" cy="354.4" r="1.9"/><circle cx="99.2" cy="349.2" r="1.9"/><circle cx="123.7" cy="355.8" r="1.9"/><circle cx="113.4" cy="359.5" r="1.9"/><circle cx="103.5" cy="356.9" r="1.9"/><circle cx="115.1" cy="354.6" r="1.9"/><circle cx="120.6" cy="355.5" r="1.9"/><circle cx="118.1" cy="355.8" r="1.9"/><circle cx="126.6" cy="357.2" r="1.9"/><circle cx="111.0" cy="357.9" r="1.9"/><circle cx="105.1" cy="359.3" r="1.9"/><circle cx="105.7" cy="352.9" r="1.9"/><circle cx="118.7" cy="358.0" r="1.9"/><circle cx="125.4" cy="358.3" r="1.9"/><circle cx="112.6" cy="351.1" r="1.9"/><circle cx="121.3" cy="356.0" r="1.9"/><circle cx="104.0" cy="358.6" r="1.9"/><circle cx="117.3" cy="351.1" r="1.9"/><circle cx="120.1" cy="349.6" r="1.9"/><circle cx="104.9" cy="356.4" r="1.9"/><circle cx="97.1" cy="354.9" r="1.9"/><circle cx="99.5" cy="357.7" r="1.9"/><circle cx="106.6" cy="355.5" r="1.9"/><circle cx="97.7" cy="353.5" r="1.9"/><circle cx="125.9" cy="356.6" r="1.9"/><circle cx="125.3" cy="353.3" r="1.9"/><circle cx="131.3" cy="350.7" r="1.9"/><circle cx="114.0" cy="359.1" r="1.9"/><circle cx="130.1" cy="359.8" r="1.9"/><circle cx="102.4" cy="347.9" r="1.9"/><circle cx="119.5" cy="349.2" r="1.9"/><circle cx="113.5" cy="349.8" r="1.9"/><circle cx="127.2" cy="357.9" r="1.9"/><circle cx="121.4" cy="354.9" r="1.9"/><circle cx="115.5" cy="353.6" r="1.9"/><circle cx="119.4" cy="355.8" r="1.9"/><circle cx="120.3" cy="353.1" r="1.9"/><circle cx="131.0" cy="360.0" r="1.9"/><circle cx="104.9" cy="348.2" r="1.9"/><circle cx="129.5" cy="353.3" r="1.9"/><circle cx="115.9" cy="353.8" r="1.9"/><circle cx="116.5" cy="350.2" r="1.9"/><circle cx="113.8" cy="353.0" r="1.9"/><circle cx="124.4" cy="356.1" r="1.9"/><circle cx="95.1" cy="351.9" r="1.9"/><circle cx="115.4" cy="357.3" r="1.9"/><circle cx="115.0" cy="360.2" r="1.9"/><circle cx="115.3" cy="350.9" r="1.9"/><circle cx="107.2" cy="357.7" r="1.9"/><circle cx="107.9" cy="358.1" r="1.9"/><circle cx="126.7" cy="357.1" r="1.9"/><circle cx="126.7" cy="354.1" r="1.9"/><circle cx="114.9" cy="352.5" r="1.9"/><circle cx="108.0" cy="348.7" r="1.9"/><circle cx="108.6" cy="350.6" r="1.9"/><circle cx="98.6" cy="355.4" r="1.9"/><circle cx="120.2" cy="353.5" r="1.9"/><circle cx="130.7" cy="358.5" r="1.9"/><circle cx="127.0" cy="352.4" r="1.9"/><circle cx="97.8" cy="357.0" r="1.9"/><circle cx="118.5" cy="357.6" r="1.9"/><circle cx="119.8" cy="359.7" r="1.9"/><circle cx="111.7" cy="357.4" r="1.9"/><circle cx="109.9" cy="360.6" r="1.9"/><circle cx="95.7" cy="358.8" r="1.9"/><circle cx="107.2" cy="353.2" r="1.9"/><circle cx="115.5" cy="355.6" r="1.9"/><circle cx="103.8" cy="355.3" r="1.9"/><circle cx="120.1" cy="358.1" r="1.9"/><circle cx="106.3" cy="360.9" r="1.9"/><circle cx="99.6" cy="355.5" r="1.9"/><circle cx="121.4" cy="350.3" r="1.9"/><circle cx="96.8" cy="355.5" r="1.9"/><circle cx="122.2" cy="351.7" r="1.9"/><circle cx="106.9" cy="355.4" r="1.9"/><circle cx="116.7" cy="361.0" r="1.9"/><circle cx="120.2" cy="352.5" r="1.9"/><circle cx="118.3" cy="357.6" r="1.9"/><circle cx="121.9" cy="360.4" r="1.9"/><circle cx="130.6" cy="348.3" r="1.9"/><circle cx="114.3" cy="362.6" r="1.9"/><circle cx="110.3" cy="358.6" r="1.9"/><circle cx="114.4" cy="353.2" r="1.9"/><circle cx="133.2" cy="358.9" r="1.9"/><circle cx="112.2" cy="358.3" r="1.9"/><circle cx="99.9" cy="352.0" r="1.9"/><circle cx="125.4" cy="355.0" r="1.9"/><circle cx="102.8" cy="356.6" r="1.9"/><circle cx="118.8" cy="359.8" r="1.9"/><circle cx="126.0" cy="353.7" r="1.9"/><circle cx="109.4" cy="354.3" r="1.9"/><circle cx="112.4" cy="360.5" r="1.9"/><circle cx="133.3" cy="360.1" r="1.9"/><circle cx="119.4" cy="353.8" r="1.9"/><circle cx="125.4" cy="353.4" r="1.9"/><circle cx="117.7" cy="348.3" r="1.9"/><circle cx="110.1" cy="360.4" r="1.9"/><circle cx="103.2" cy="349.0" r="1.9"/><circle cx="113.1" cy="361.3" r="1.9"/><circle cx="131.7" cy="353.4" r="1.9"/><circle cx="109.5" cy="354.4" r="1.9"/><circle cx="104.3" cy="354.9" r="1.9"/><circle cx="111.5" cy="349.0" r="1.9"/><circle cx="108.3" cy="353.8" r="1.9"/><circle cx="105.1" cy="350.4" r="1.9"/><circle cx="125.4" cy="362.2" r="1.9"/><circle cx="111.7" cy="353.1" r="1.9"/><circle cx="120.8" cy="353.9" r="1.9"/><circle cx="106.0" cy="360.2" r="1.9"/><circle cx="103.0" cy="351.9" r="1.9"/><circle cx="107.4" cy="351.3" r="1.9"/><circle cx="112.3" cy="357.0" r="1.9"/><circle cx="131.6" cy="357.4" r="1.9"/><circle cx="115.4" cy="349.9" r="1.9"/><circle cx="114.3" cy="351.1" r="1.9"/><circle cx="113.9" cy="358.6" r="1.9"/><circle cx="117.3" cy="354.0" r="1.9"/><circle cx="106.3" cy="354.7" r="1.9"/><circle cx="116.3" cy="351.2" r="1.9"/><circle cx="109.2" cy="358.2" r="1.9"/><circle cx="95.9" cy="353.1" r="1.9"/><circle cx="101.6" cy="360.8" r="1.9"/><circle cx="122.0" cy="356.8" r="1.9"/><circle cx="119.6" cy="355.9" r="1.9"/><circle cx="118.4" cy="348.6" r="1.9"/><circle cx="118.0" cy="357.1" r="1.9"/><circle cx="98.6" cy="358.0" r="1.9"/><circle cx="122.7" cy="348.9" r="1.9"/><circle cx="109.6" cy="353.6" r="1.9"/><circle cx="108.9" cy="356.3" r="1.9"/><circle cx="100.3" cy="353.9" r="1.9"/><circle cx="117.6" cy="357.6" r="1.9"/><circle cx="115.6" cy="353.9" r="1.9"/><circle cx="122.9" cy="347.0" r="1.9"/><circle cx="125.7" cy="353.6" r="1.9"/><circle cx="100.6" cy="353.1" r="1.9"/><circle cx="111.2" cy="351.8" r="1.9"/><circle cx="123.4" cy="351.3" r="1.9"/><circle cx="100.1" cy="351.1" r="1.9"/><circle cx="134.7" cy="354.9" r="1.9"/><circle cx="108.0" cy="350.9" r="1.9"/><circle cx="102.4" cy="354.2" r="1.9"/><circle cx="119.9" cy="359.3" r="1.9"/><circle cx="128.2" cy="355.9" r="1.9"/><circle cx="107.4" cy="351.4" r="1.9"/><circle cx="119.8" cy="353.5" r="1.9"/><circle cx="119.2" cy="349.5" r="1.9"/><circle cx="125.3" cy="356.0" r="1.9"/><circle cx="115.5" cy="356.4" r="1.9"/><circle cx="104.7" cy="361.9" r="1.9"/><circle cx="112.9" cy="352.8" r="1.9"/><circle cx="124.8" cy="350.7" r="1.9"/><circle cx="131.4" cy="352.1" r="1.9"/><circle cx="114.3" cy="351.2" r="1.9"/><circle cx="124.3" cy="346.3" r="1.9"/><circle cx="122.9" cy="351.6" r="1.9"/><circle cx="115.6" cy="350.3" r="1.9"/><circle cx="117.6" cy="355.5" r="1.9"/><circle cx="121.8" cy="356.0" r="1.9"/><circle cx="122.2" cy="358.7" r="1.9"/><circle cx="110.5" cy="350.2" r="1.9"/><circle cx="100.3" cy="357.5" r="1.9"/><circle cx="110.7" cy="358.9" r="1.9"/><circle cx="115.5" cy="350.9" r="1.9"/><circle cx="125.4" cy="362.4" r="1.9"/><circle cx="112.9" cy="351.1" r="1.9"/><circle cx="105.3" cy="358.3" r="1.9"/><circle cx="108.3" cy="353.2" r="1.9"/><circle cx="122.9" cy="354.8" r="1.9"/><circle cx="116.3" cy="352.7" r="1.9"/><circle cx="107.7" cy="355.4" r="1.9"/><circle cx="85.1" cy="356.6" r="1.9"/><circle cx="84.5" cy="357.6" r="1.9"/><circle cx="82.4" cy="356.6" r="1.9"/><circle cx="89.4" cy="356.4" r="1.9"/><circle cx="82.9" cy="358.0" r="1.9"/><circle cx="88.1" cy="355.9" r="1.9"/><circle cx="92.6" cy="357.7" r="1.9"/><circle cx="87.9" cy="356.2" r="1.9"/><circle cx="82.4" cy="357.1" r="1.9"/><circle cx="83.4" cy="355.2" r="1.9"/><circle cx="139.6" cy="355.7" r="1.9"/><circle cx="137.8" cy="356.5" r="1.9"/><circle cx="134.7" cy="357.0" r="1.9"/><circle cx="136.9" cy="355.4" r="1.9"/><circle cx="144.0" cy="351.0" r="1.9"/><circle cx="137.2" cy="355.4" r="1.9"/><circle cx="136.5" cy="354.3" r="1.9"/><circle cx="141.8" cy="357.5" r="1.9"/><circle cx="137.8" cy="356.6" r="1.9"/><circle cx="146.6" cy="355.9" r="1.9"/><circle cx="141.3" cy="355.0" r="1.9"/><circle cx="134.3" cy="354.6" r="1.9"/></g>
<g stroke="#000" stroke-width="3.9" fill="none" stroke-linecap="butt"><line x1="167.7" y1="319.6" x2="360.5" y2="319.6"/><line x1="360.5" y1="390.6" x2="360.5" y2="254"/><line x1="360.5" y1="254" x2="299.3" y2="214.3"/><line x1="360.5" y1="254" x2="457" y2="221.4"/></g>
<rect x="43.1" y="0.5" width="594.3" height="446.4" fill="none" stroke="#1a1a1a" stroke-width="1.4"/>
<g stroke="#1a1a1a" stroke-width="1.2"><line x1="115.0" y1="446.9" x2="115.0" y2="451.09999999999997"/><line x1="251.2" y1="446.9" x2="251.2" y2="451.09999999999997"/><line x1="387.5" y1="446.9" x2="387.5" y2="451.09999999999997"/><line x1="523.7" y1="446.9" x2="523.7" y2="451.09999999999997"/><line x1="43.1" y1="354.4" x2="38.9" y2="354.4"/><line x1="43.1" y1="216.6" x2="38.9" y2="216.6"/><line x1="43.1" y1="78.8" x2="38.9" y2="78.8"/></g>
<g font-size="16.2" fill="#000"><text x="115.0" y="468.4" text-anchor="middle">0</text><text x="251.2" y="468.4" text-anchor="middle">2</text><text x="387.5" y="468.4" text-anchor="middle">4</text><text x="523.7" y="468.4" text-anchor="middle">6</text><text x="34.2" y="360.5" text-anchor="end">0</text><text x="34.2" y="222.7" text-anchor="end">2</text><text x="34.2" y="84.8" text-anchor="end">4</text></g>
<text x="340.35" y="490.7" font-size="18.4" text-anchor="middle" textLength="101.4" lengthAdjust="spacingAndGlyphs">E(Ks - W4)</text>
<text transform="translate(15.1,224.3) rotate(-90)" font-size="19" text-anchor="middle" textLength="100.4" lengthAdjust="spacingAndGlyphs">E(Ks - W3)</text>
<g font-size="14.6"><text x="333.3" y="147.5">full disks</text><text x="182.9" y="285.0">evolved disks</text><text x="80.9" y="320">M dwarfs</text><text x="455.9" y="319.4">transitional disks</text><text x="149.0" y="409.8">debris or evolved</text><text x="149.0" y="423.6">transitional disks</text></g>
<rect x="50.2" y="7.5" width="245.4" height="68.8" rx="2.4" fill="#fff" fill-opacity="0.8" stroke="#ccc" stroke-width="1.2"/>
<circle cx="70.6" cy="19.6" r="3.9" fill="#f00"/><circle cx="70.7" cy="41.1" r="2" fill="#00bfff"/><circle cx="70.7" cy="62.5" r="2" fill="#000"/>
<g font-size="14.55"><text x="97.4" y="24.9">Reliable W3 and W4</text><text x="97.4" y="45.9">Not reliable W3 and/or W4</text><text x="97.4" y="67.4">M Dwarfs</text></g>
</svg></body></html>
